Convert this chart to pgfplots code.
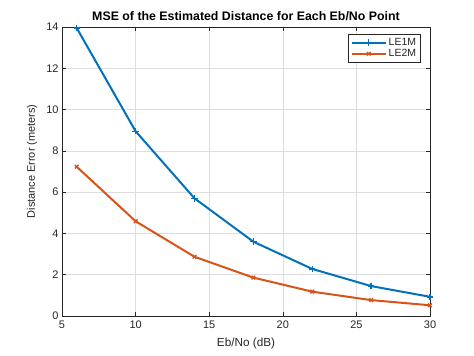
\documentclass[border=0pt]{standalone}
\usepackage{pgfplots}
\pgfplotsset{compat=1.18}
\usepackage{fontspec}
\setmainfont{Liberation Sans}
\definecolor{mblue}{rgb}{0,0.447,0.741}
\definecolor{morange}{rgb}{0.85,0.325,0.098}
\definecolor{axgray}{rgb}{0.15,0.15,0.15}
\begin{document}
\begin{tikzpicture}[x=1bp,y=1bp]
\useasboundingbox (0,0) rectangle (474,355);
\begin{axis}[
  at={(62bp,39bp)}, anchor=south west,
  scale only axis, width=368bp, height=289bp,
  xmin=5, xmax=30, ymin=0, ymax=14,
  xtick={5,10,...,30}, ytick={0,2,...,14},
  grid=major,
  grid style={color=black!13, line width=0.5pt},
  axis line style={axgray, line width=0.6pt},
  tick style={axgray, line width=0.6pt},
  tick align=inside, major tick length=4bp,
  tick label style={font=\fontsize{11}{13}\selectfont, text=axgray},
  xticklabel style={yshift=-1bp},
  /pgf/number format/assume math mode=true,
  xlabel={Eb/No (dB)}, ylabel={Distance Error (meters)},
  xlabel style={font=\fontsize{11.8}{13}\selectfont, text=axgray, at={(axis description cs:0.5,-0.0934)}, anchor=center},
  ylabel style={font=\fontsize{11}{13}\selectfont, text=axgray, at={(axis description cs:-0.0815,0.535)}, anchor=center},
  title={MSE of the Estimated Distance for Each Eb/No Point},
  title style={font=\bfseries\fontsize{12.4}{14}\selectfont, text=black, yshift=-3bp},
  legend style={font=\fontsize{10.5}{12}\selectfont, text=axgray, draw=axgray, line width=0.5pt, at={(0.975,0.976)}, anchor=north east, inner xsep=2.5bp, inner ysep=2bp, row sep=-1.5bp},
  legend cell align=left,
  legend image code/.code={\draw[mark repeat=2,mark phase=2,#1] plot coordinates {(0bp,0bp) (17bp,0bp) (34bp,0bp)};},
]
\addplot[mblue, line width=2pt, mark=+, mark size=3.2bp, mark options={line width=1.4pt}] coordinates {
(6,13.95) (10,8.95) (14,5.70) (18,3.60) (22,2.28) (26,1.45) (30,0.93)};
\addlegendentry{LE1M}
\addplot[morange, line width=2pt, mark=x, mark size=2.6bp, mark options={line width=1.4pt}] coordinates {
(6,7.23) (10,4.59) (14,2.87) (18,1.86) (22,1.18) (26,0.77) (30,0.52)};
\addlegendentry{LE2M}
\end{axis}
\end{tikzpicture}
\end{document}
